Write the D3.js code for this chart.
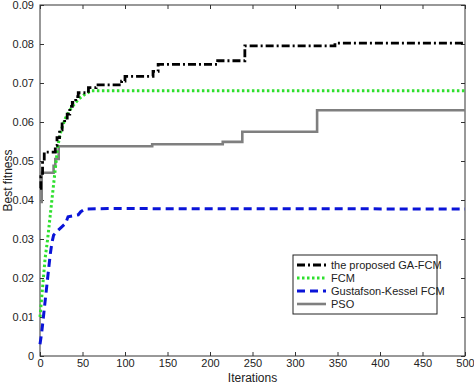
<!DOCTYPE html>
<html>
<head>
<meta charset="utf-8">
<script src="https://cdn.jsdelivr.net/npm/d3@7"></script>
<style>
  body { margin: 0; background: #fff; }
  text { font-family: "Liberation Sans", Arial, sans-serif; fill: #222; }
</style>
</head>
<body>
<div id="chart"></div>
<script>
// series as [iteration, best fitness]
var gaFcm = [[0,0.043],[1,0.046],[3,0.050],[5,0.0523],[18,0.054],[20,0.056],[23,0.058],[26,0.060],[29,0.061],[32,0.062],[35,0.064],[38,0.065],[42,0.0665],[45,0.0675],[57,0.0688],[66,0.0695],[96,0.0705],[100,0.0717],[133,0.073],[139,0.0748],[209,0.0757],[241,0.0795],[347,0.0802],[500,0.0802]];
var fcm = [[0,0.010],[2,0.015],[4,0.020],[6,0.025],[9,0.030],[12,0.036],[15,0.042],[18,0.048],[21,0.054],[25,0.058],[30,0.061],[35,0.063],[40,0.0645],[46,0.066],[52,0.067],[60,0.068],[500,0.068]];
var gkFcm = [[0,0.003],[2,0.006],[4,0.010],[6,0.014],[8,0.018],[10,0.022],[12,0.026],[14,0.029],[16,0.031],[20,0.032],[25,0.033],[30,0.034],[33,0.0357],[45,0.0362],[48,0.037],[53,0.0377],[80,0.0378],[500,0.0377]];
var pso = [[0,0.0395],[2,0.047],[16,0.0488],[18,0.0505],[22,0.0538],[132,0.0543],[215,0.0549],[238,0.0575],[326,0.063],[500,0.063]];

var legendNames = ["the proposed GA-FCM", "FCM", "Gustafson-Kessel FCM", "PSO"];
var xTicks = d3.range(0, 501, 50);
var yTicks = d3.range(0, 0.0901, 0.01);

var width = 474, height = 386;
var margin = {top: 5, left: 40, right: 9, bottom: 30};
var w = width - margin.left - margin.right;
var h = height - margin.top - margin.bottom;

var svg = d3.select("#chart").append("svg")
    .attr("width", width)
    .attr("height", height);
var g = svg.append("g")
    .attr("transform", "translate(" + margin.left + "," + margin.top + ")");

var x = d3.scaleLinear().domain([0, 500]).range([0, w]);
var y = d3.scaleLinear().domain([0, 0.09]).range([h, 0]);

// frame
g.append("rect")
    .attr("width", w).attr("height", h)
    .attr("fill", "#fff").attr("stroke", "#333").attr("stroke-width", 1);

// axes, ticks inward like matlab
var fmtY = function (d) { return d === 0 ? "0" : d3.format(".2f")(d); };
g.append("g").attr("transform", "translate(0," + h + ")")
    .call(d3.axisBottom(x).tickValues(xTicks).tickSizeInner(-4).tickSizeOuter(0).tickPadding(3))
    .call(a => a.select(".domain").remove());
g.append("g")
    .call(d3.axisTop(x).tickValues(xTicks).tickSizeInner(-4).tickSizeOuter(0).tickFormat(""))
    .call(a => a.select(".domain").remove());
g.append("g")
    .call(d3.axisLeft(y).tickValues(yTicks).tickSizeInner(-4).tickSizeOuter(0).tickPadding(6).tickFormat(fmtY))
    .call(a => a.select(".domain").remove());
g.append("g").attr("transform", "translate(" + w + ",0)")
    .call(d3.axisRight(y).tickValues(yTicks).tickSizeInner(-4).tickSizeOuter(0).tickFormat(""))
    .call(a => a.select(".domain").remove());
g.selectAll(".tick line").attr("stroke", "#333");
g.selectAll(".tick text").attr("font-size", 11).attr("fill", "#222")
    .attr("font-family", "Liberation Sans, Arial, sans-serif");

// axis titles
g.append("text")
    .attr("x", w / 2).attr("y", h + 26)
    .attr("text-anchor", "middle").attr("font-size", 12)
    .text("Iterations");
g.append("text")
    .attr("transform", "translate(" + (-28) + "," + (h / 2) + ") rotate(-90)")
    .attr("text-anchor", "middle").attr("font-size", 12)
    .text("Best fitness");

var series = [
    {name: legendNames[0], data: gaFcm, color: "#000", dash: "8,3,2,3", curve: d3.curveStepAfter, width: 2.8},
    {name: legendNames[1], data: fcm, color: "#2ee02e", dash: "2.5,2.5", curve: d3.curveLinear, width: 3},
    {name: legendNames[2], data: gkFcm, color: "#0a14d8", dash: "8,5", curve: d3.curveLinear, width: 3},
    {name: legendNames[3], data: pso, color: "#7f7f7f", dash: null, curve: d3.curveStepAfter, width: 2.6}
];

series.slice().reverse().forEach(function (s) {
    var line = d3.line()
        .x(d => x(d[0]))
        .y(d => y(d[1]))
        .curve(s.curve);
    g.append("path")
        .datum(s.data)
        .attr("fill", "none")
        .attr("stroke", s.color)
        .attr("stroke-width", s.width)
        .attr("stroke-dasharray", s.dash)
        .attr("d", line);
});

// legend
var lg = svg.append("g").attr("transform", "translate(293,255)");
lg.append("rect")
    .attr("width", 144).attr("height", 59)
    .attr("fill", "#fff").attr("stroke", "#222").attr("stroke-width", 1);
series.forEach(function (s, i) {
    var ly = 10 + i * 13;
    lg.append("line")
        .attr("x1", 4).attr("x2", 33).attr("y1", ly).attr("y2", ly)
        .attr("stroke", s.color).attr("stroke-width", s.width)
        .attr("stroke-dasharray", s.dash);
    lg.append("text")
        .attr("x", 38).attr("y", ly + 4)
        .attr("font-size", 11)
        .text(s.name);
});
</script>
</body>
</html>
